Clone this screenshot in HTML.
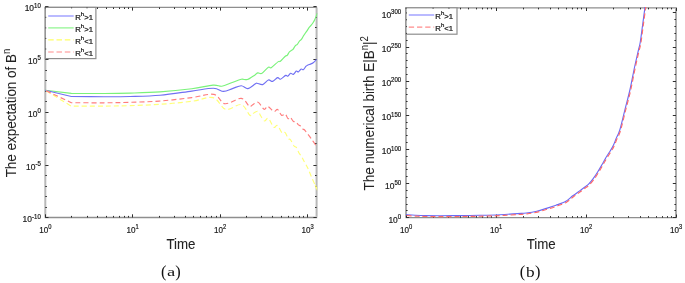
<!DOCTYPE html>
<html><head><meta charset="utf-8"><title>Figure</title>
<style>html,body{margin:0;padding:0;background:#fff;}body{width:685px;height:283px;overflow:hidden;}svg{display:block;filter:blur(0.3px);}</style>
</head><body>
<svg width="685" height="283" viewBox="0 0 685 283" font-family="'Liberation Sans', sans-serif">
<rect width="685" height="283" fill="#fff"/>
<defs><clipPath id="ca"><rect x="44.60" y="6.70" width="272.70" height="211.50"/></clipPath><clipPath id="cb"><rect x="405.30" y="7.10" width="271.40" height="211.30"/></clipPath></defs>
<path d="M44.70 7.4H317.20M44.70 217.5H317.20" stroke="#8e8e8e" stroke-width="1.3" fill="none"/>
<path d="M45.3 8.05V216.85M316.6 8.05V216.85" stroke="#b8b8b8" stroke-width="2.0" fill="none"/>
<path d="M45.50 217.5v-3.2M45.50 7.4v3.2M132.50 217.5v-3.2M132.50 7.4v3.2M220.50 217.5v-3.2M220.50 7.4v3.2M307.50 217.5v-3.2M307.50 7.4v3.2M71.50 217.5v-1.6M71.50 7.4v1.6M87.50 217.5v-1.6M87.50 7.4v1.6M97.50 217.5v-1.6M97.50 7.4v1.6M106.50 217.5v-1.6M106.50 7.4v1.6M113.50 217.5v-1.6M113.50 7.4v1.6M119.50 217.5v-1.6M119.50 7.4v1.6M124.50 217.5v-1.6M124.50 7.4v1.6M128.50 217.5v-1.6M128.50 7.4v1.6M159.50 217.5v-1.6M159.50 7.4v1.6M174.50 217.5v-1.6M174.50 7.4v1.6M185.50 217.5v-1.6M185.50 7.4v1.6M193.50 217.5v-1.6M193.50 7.4v1.6M200.50 217.5v-1.6M200.50 7.4v1.6M206.50 217.5v-1.6M206.50 7.4v1.6M211.50 217.5v-1.6M211.50 7.4v1.6M216.50 217.5v-1.6M216.50 7.4v1.6M246.50 217.5v-1.6M246.50 7.4v1.6M261.50 217.5v-1.6M261.50 7.4v1.6M272.50 217.5v-1.6M272.50 7.4v1.6M281.50 217.5v-1.6M281.50 7.4v1.6M288.50 217.5v-1.6M288.50 7.4v1.6M293.50 217.5v-1.6M293.50 7.4v1.6M299.50 217.5v-1.6M299.50 7.4v1.6M303.50 217.5v-1.6M303.50 7.4v1.6M45.3 217.50h3.2M316.6 217.50h-3.2M45.3 165.50h3.2M316.6 165.50h-3.2M45.3 112.50h3.2M316.6 112.50h-3.2M45.3 59.50h3.2M316.6 59.50h-3.2M45.3 6.50h3.2M316.6 6.50h-3.2M45.3 207.50h1.6M316.6 207.50h-1.6M45.3 196.50h1.6M316.6 196.50h-1.6M45.3 186.50h1.6M316.6 186.50h-1.6M45.3 175.50h1.6M316.6 175.50h-1.6M45.3 154.50h1.6M316.6 154.50h-1.6M45.3 143.50h1.6M316.6 143.50h-1.6M45.3 133.50h1.6M316.6 133.50h-1.6M45.3 122.50h1.6M316.6 122.50h-1.6M45.3 101.50h1.6M316.6 101.50h-1.6M45.3 91.50h1.6M316.6 91.50h-1.6M45.3 80.50h1.6M316.6 80.50h-1.6M45.3 70.50h1.6M316.6 70.50h-1.6M45.3 48.50h1.6M316.6 48.50h-1.6M45.3 38.50h1.6M316.6 38.50h-1.6M45.3 27.50h1.6M316.6 27.50h-1.6M45.3 17.50h1.6M316.6 17.50h-1.6" stroke="#2e2e2e" stroke-width="1.0" fill="none"/>
<g clip-path="url(#ca)" fill="none" stroke-width="1.15" stroke-linejoin="round">
<path d="M45.30 90.30L71.30 93.40C76.75 93.42 94.22 93.55 104.00 93.50C113.78 93.45 120.67 93.37 130.00 93.10C139.33 92.83 149.70 92.63 160.00 91.90C170.30 91.17 182.97 89.83 191.80 88.70C200.63 87.57 208.00 85.52 213.00 85.10C218.00 84.68 218.72 86.58 221.80 86.20C224.88 85.82 228.27 83.95 231.50 82.80C234.73 81.65 238.55 79.85 241.20 79.30C243.85 78.75 245.10 80.23 247.40 79.50C249.70 78.77 253.27 76.00 255.00 74.90C256.73 73.80 256.63 73.17 257.80 72.90C258.97 72.63 260.23 74.25 262.00 73.30C263.77 72.35 266.87 68.13 268.40 67.20C269.93 66.27 269.55 68.63 271.20 67.70C272.85 66.77 276.77 62.67 278.30 61.60C279.83 60.53 279.23 62.20 280.40 61.30C281.57 60.40 284.17 57.20 285.30 56.20C286.43 55.20 286.52 56.02 287.20 55.30C287.88 54.58 288.68 52.73 289.40 51.90C290.12 51.07 290.90 50.73 291.50 50.30C292.10 49.87 292.35 50.08 293.00 49.30C293.65 48.52 294.68 46.42 295.40 45.60C296.12 44.78 296.60 45.18 297.30 44.40C298.00 43.62 298.92 41.73 299.60 40.90C300.28 40.07 300.73 40.28 301.40 39.40C302.07 38.52 302.93 36.67 303.60 35.60C304.27 34.53 304.83 33.80 305.40 33.00C305.97 32.20 306.33 31.77 307.00 30.80C307.67 29.83 308.70 28.13 309.40 27.20C310.10 26.27 310.60 25.93 311.20 25.20C311.80 24.47 312.40 23.77 313.00 22.80C313.60 21.83 314.20 20.67 314.80 19.40C315.40 18.13 316.13 16.27 316.60 15.20C317.07 14.13 317.43 13.37 317.60 13.00" stroke="#7af27a"/>
<path d="M45.30 90.30L71.30 96.50C76.75 96.53 94.22 96.70 104.00 96.70C113.78 96.70 120.67 96.73 130.00 96.50C139.33 96.27 149.70 96.20 160.00 95.30C170.30 94.40 182.90 92.27 191.80 91.10C200.70 89.93 208.12 88.25 213.40 88.30C218.68 88.35 220.33 91.35 223.50 91.40C226.67 91.45 229.45 89.55 232.40 88.60C235.35 87.65 238.63 85.70 241.20 85.70C243.77 85.70 245.50 88.87 247.80 88.60C250.10 88.33 253.47 85.00 255.00 84.10C256.53 83.20 255.72 83.12 257.00 83.20C258.28 83.28 260.80 85.13 262.70 84.60C264.60 84.07 266.75 80.53 268.40 80.00C270.05 79.47 271.07 81.80 272.60 81.40C274.13 81.00 276.30 77.97 277.60 77.60C278.90 77.23 279.05 79.57 280.40 79.20C281.75 78.83 284.47 75.90 285.70 75.40C286.93 74.90 286.98 76.55 287.80 76.20C288.62 75.85 289.67 73.60 290.60 73.30C291.53 73.00 292.45 74.77 293.40 74.40C294.35 74.03 295.47 71.52 296.30 71.10C297.13 70.68 297.58 72.25 298.40 71.90C299.22 71.55 300.38 69.37 301.20 69.00C302.02 68.63 302.48 70.17 303.30 69.70C304.12 69.23 305.27 67.02 306.10 66.20C306.93 65.38 307.58 65.15 308.30 64.80C309.02 64.45 309.58 64.45 310.40 64.10C311.22 63.75 312.17 63.48 313.20 62.70C314.23 61.92 316.03 59.95 316.60 59.40" stroke="#7070f3"/>
<path d="M45.30 90.30L71.30 106.20C76.75 106.18 94.22 106.20 104.00 106.10C113.78 106.00 120.67 105.90 130.00 105.60C139.33 105.30 149.70 105.02 160.00 104.30C170.30 103.58 182.97 102.42 191.80 101.30C200.63 100.18 207.33 96.25 213.00 97.60C218.67 98.95 221.10 108.23 225.80 109.40C230.50 110.57 237.23 103.67 241.20 104.60C245.17 105.53 247.80 113.40 249.60 115.00C251.40 116.60 250.67 114.82 252.00 114.20C253.33 113.58 256.13 111.00 257.60 111.30C259.07 111.60 259.65 114.38 260.80 116.00C261.95 117.62 263.23 120.60 264.50 121.00C265.77 121.40 266.85 117.37 268.40 118.40C269.95 119.43 272.30 126.03 273.80 127.20C275.30 128.37 276.03 124.47 277.40 125.40C278.77 126.33 280.70 131.60 282.00 132.80C283.30 134.00 284.17 131.63 285.20 132.60C286.23 133.57 287.33 137.43 288.20 138.60C289.07 139.77 289.43 138.37 290.40 139.60C291.37 140.83 293.02 144.70 294.00 146.00C294.98 147.30 295.47 146.23 296.30 147.40C297.13 148.57 298.13 151.50 299.00 153.00C299.87 154.50 300.75 155.18 301.50 156.40C302.25 157.62 302.50 158.45 303.50 160.30C304.50 162.15 306.17 164.72 307.50 167.50C308.83 170.28 309.98 173.55 311.50 177.00C313.02 180.45 315.75 186.33 316.60 188.20" stroke="#ffff78" stroke-dasharray="5 3" stroke-dashoffset="-1"/>
<path d="M45.30 90.30L71.30 102.70C76.75 102.72 94.22 102.87 104.00 102.80C113.78 102.73 120.67 102.60 130.00 102.30C139.33 102.00 149.70 101.78 160.00 101.00C170.30 100.22 182.83 98.70 191.80 97.60C200.77 96.50 208.28 93.38 213.80 94.40C219.32 95.42 220.33 103.03 224.90 103.70C229.47 104.37 237.15 97.97 241.20 98.40C245.25 98.83 247.38 105.17 249.20 106.30C251.02 107.43 250.63 105.88 252.10 105.20C253.57 104.52 256.00 101.52 258.00 102.20C260.00 102.88 262.48 108.62 264.10 109.30C265.72 109.98 266.08 105.93 267.70 106.30C269.32 106.67 272.15 110.98 273.80 111.50C275.45 112.02 276.32 108.78 277.60 109.40C278.88 110.02 280.22 114.42 281.50 115.20C282.78 115.98 284.22 113.53 285.30 114.10C286.38 114.67 287.17 118.07 288.00 118.60C288.83 119.13 289.43 116.87 290.30 117.30C291.17 117.73 292.25 120.43 293.20 121.20C294.15 121.97 295.13 121.30 296.00 121.90C296.87 122.50 297.67 124.13 298.40 124.80C299.13 125.47 299.70 125.23 300.40 125.90C301.10 126.57 301.90 128.12 302.60 128.80C303.30 129.48 303.90 129.32 304.60 130.00C305.30 130.68 306.07 131.97 306.80 132.90C307.53 133.83 308.30 134.70 309.00 135.60C309.70 136.50 310.25 137.25 311.00 138.30C311.75 139.35 312.57 140.55 313.50 141.90C314.43 143.25 316.08 145.65 316.60 146.40" stroke="#ff7d7d" stroke-dasharray="5 3" stroke-dashoffset="-1"/>
<path d="M315.2 185.0L317.6 190.4" stroke="#ffff78"/>
</g>
<text transform="translate(45.30,232.60) scale(0.88,1)" text-anchor="middle" font-size="9.2" fill="#1a1a1a" stroke="#1a1a1a" stroke-width="0.2">10<tspan dy="-3.8" font-size="6.6">0</tspan></text>
<text transform="translate(132.70,232.60) scale(0.88,1)" text-anchor="middle" font-size="9.2" fill="#1a1a1a" stroke="#1a1a1a" stroke-width="0.2">10<tspan dy="-3.8" font-size="6.6">1</tspan></text>
<text transform="translate(220.10,232.60) scale(0.88,1)" text-anchor="middle" font-size="9.2" fill="#1a1a1a" stroke="#1a1a1a" stroke-width="0.2">10<tspan dy="-3.8" font-size="6.6">2</tspan></text>
<text transform="translate(307.50,232.60) scale(0.88,1)" text-anchor="middle" font-size="9.2" fill="#1a1a1a" stroke="#1a1a1a" stroke-width="0.2">10<tspan dy="-3.8" font-size="6.6">3</tspan></text>
<text transform="translate(40.80,11.30) scale(0.92,1)" text-anchor="end" font-size="9.2" fill="#1a1a1a" stroke="#1a1a1a" stroke-width="0.2">10<tspan dy="-3.8" font-size="6.6">10</tspan></text>
<text transform="translate(40.80,64.05) scale(0.92,1)" text-anchor="end" font-size="9.2" fill="#1a1a1a" stroke="#1a1a1a" stroke-width="0.2">10<tspan dy="-3.8" font-size="6.6">5</tspan></text>
<text transform="translate(40.80,116.80) scale(0.92,1)" text-anchor="end" font-size="9.2" fill="#1a1a1a" stroke="#1a1a1a" stroke-width="0.2">10<tspan dy="-3.8" font-size="6.6">0</tspan></text>
<text transform="translate(40.80,169.55) scale(0.92,1)" text-anchor="end" font-size="9.2" fill="#1a1a1a" stroke="#1a1a1a" stroke-width="0.2">10<tspan dy="-3.8" font-size="6.6">-5</tspan></text>
<text transform="translate(40.80,222.30) scale(0.92,1)" text-anchor="end" font-size="9.2" fill="#1a1a1a" stroke="#1a1a1a" stroke-width="0.2">10<tspan dy="-3.8" font-size="6.6">-10</tspan></text>
<rect x="45.3" y="7.4" width="50.6" height="51.2" fill="#fff" stroke="#8e8e8e" stroke-width="1.2"/>
<line x1="48.2" y1="16.0" x2="73.7" y2="16.0" stroke="#8c8cff" stroke-width="1.2"/>
<text transform="translate(75.20,19.90) scale(0.97,1)" font-size="8" fill="#1a1a1a" stroke="#1a1a1a" stroke-width="0.25">R<tspan dy="-4.2" font-size="6.2">h</tspan><tspan dy="4.2">&gt;1</tspan></text>
<line x1="48.2" y1="27.9" x2="73.7" y2="27.9" stroke="#8cf58c" stroke-width="1.2"/>
<text transform="translate(75.20,31.80) scale(0.97,1)" font-size="8" fill="#1a1a1a" stroke="#1a1a1a" stroke-width="0.25">R<tspan dy="-4.2" font-size="6.2">h</tspan><tspan dy="4.2">&gt;1</tspan></text>
<line x1="48.2" y1="39.9" x2="73.7" y2="39.9" stroke="#ffff66" stroke-width="1.2" stroke-dasharray="5.5 2.8"/>
<text transform="translate(75.20,43.80) scale(0.97,1)" font-size="8" fill="#1a1a1a" stroke="#1a1a1a" stroke-width="0.25">R<tspan dy="-4.2" font-size="6.2">h</tspan><tspan dy="4.2">&lt;1</tspan></text>
<line x1="48.2" y1="52.0" x2="73.7" y2="52.0" stroke="#ff8c8c" stroke-width="1.2" stroke-dasharray="5.5 2.8"/>
<text transform="translate(75.20,55.90) scale(0.97,1)" font-size="8" fill="#1a1a1a" stroke="#1a1a1a" stroke-width="0.25">R<tspan dy="-4.2" font-size="6.2">h</tspan><tspan dy="4.2">&lt;1</tspan></text>
<path d="M71.61 7.4v1.0M87.00 7.4v1.0M45.30 7.4v1.0M45.3 49.00h1.0M45.3 38.45h1.0M45.3 27.90h1.0M45.3 17.35h1.0M45.3 6.80h1.0" stroke="#2e2e2e" stroke-width="0.9" fill="none"/>
<text transform="translate(181.0,249.4) scale(0.95,1)" text-anchor="middle" font-size="14" fill="#222" stroke="#222" stroke-width="0.08">Time</text>
<text transform="translate(15.9,113.0) rotate(-90) scale(0.962,1)" text-anchor="middle" font-size="14" fill="#222" stroke="#222" stroke-width="0.05">The expectation of B<tspan dy="-6.3" font-size="10">n</tspan></text>
<g font-family="'Liberation Serif', serif" font-size="15.4" fill="#111"><text x="161.0" y="276.5" font-size="16.4">(</text><text transform="translate(166.9,275.7) scale(1.2,0.8)" x="0" y="0">a</text><text x="175.2" y="276.5" font-size="16.4">)</text></g>
<path d="M405.40 7.8H676.60M405.40 217.7H676.60" stroke="#8e8e8e" stroke-width="1.3" fill="none"/>
<path d="M406.0 8.45V217.05M676.0 8.45V217.05" stroke="#989898" stroke-width="1.6" fill="none"/>
<path d="M406.50 217.7v-3.2M406.50 7.8v3.2M496.50 217.7v-3.2M496.50 7.8v3.2M586.50 217.7v-3.2M586.50 7.8v3.2M676.50 217.7v-3.2M676.50 7.8v3.2M433.50 217.7v-1.6M433.50 7.8v1.6M448.50 217.7v-1.6M448.50 7.8v1.6M460.50 217.7v-1.6M460.50 7.8v1.6M468.50 217.7v-1.6M468.50 7.8v1.6M476.50 217.7v-1.6M476.50 7.8v1.6M482.50 217.7v-1.6M482.50 7.8v1.6M487.50 217.7v-1.6M487.50 7.8v1.6M491.50 217.7v-1.6M491.50 7.8v1.6M523.50 217.7v-1.6M523.50 7.8v1.6M538.50 217.7v-1.6M538.50 7.8v1.6M550.50 217.7v-1.6M550.50 7.8v1.6M558.50 217.7v-1.6M558.50 7.8v1.6M566.50 217.7v-1.6M566.50 7.8v1.6M572.50 217.7v-1.6M572.50 7.8v1.6M577.50 217.7v-1.6M577.50 7.8v1.6M581.50 217.7v-1.6M581.50 7.8v1.6M613.50 217.7v-1.6M613.50 7.8v1.6M628.50 217.7v-1.6M628.50 7.8v1.6M640.50 217.7v-1.6M640.50 7.8v1.6M648.50 217.7v-1.6M648.50 7.8v1.6M656.50 217.7v-1.6M656.50 7.8v1.6M662.50 217.7v-1.6M662.50 7.8v1.6M667.50 217.7v-1.6M667.50 7.8v1.6M671.50 217.7v-1.6M671.50 7.8v1.6M406.0 217.50h3.2M676.0 217.50h-3.2M406.0 183.50h3.2M676.0 183.50h-3.2M406.0 149.50h3.2M676.0 149.50h-3.2M406.0 115.50h3.2M676.0 115.50h-3.2M406.0 81.50h3.2M676.0 81.50h-3.2M406.0 47.50h3.2M676.0 47.50h-3.2M406.0 12.50h3.2M676.0 12.50h-3.2M406.0 210.50h1.6M676.0 210.50h-1.6M406.0 204.50h1.6M676.0 204.50h-1.6M406.0 197.50h1.6M676.0 197.50h-1.6M406.0 190.50h1.6M676.0 190.50h-1.6M406.0 176.50h1.6M676.0 176.50h-1.6M406.0 169.50h1.6M676.0 169.50h-1.6M406.0 163.50h1.6M676.0 163.50h-1.6M406.0 156.50h1.6M676.0 156.50h-1.6M406.0 142.50h1.6M676.0 142.50h-1.6M406.0 135.50h1.6M676.0 135.50h-1.6M406.0 128.50h1.6M676.0 128.50h-1.6M406.0 122.50h1.6M676.0 122.50h-1.6M406.0 108.50h1.6M676.0 108.50h-1.6M406.0 101.50h1.6M676.0 101.50h-1.6M406.0 94.50h1.6M676.0 94.50h-1.6M406.0 88.50h1.6M676.0 88.50h-1.6M406.0 74.50h1.6M676.0 74.50h-1.6M406.0 67.50h1.6M676.0 67.50h-1.6M406.0 60.50h1.6M676.0 60.50h-1.6M406.0 53.50h1.6M676.0 53.50h-1.6M406.0 40.50h1.6M676.0 40.50h-1.6M406.0 33.50h1.6M676.0 33.50h-1.6M406.0 26.50h1.6M676.0 26.50h-1.6M406.0 19.50h1.6M676.0 19.50h-1.6" stroke="#2e2e2e" stroke-width="1.0" fill="none"/>
<g clip-path="url(#cb)" fill="none" stroke-width="1.15" stroke-linejoin="round">
<path d="M406.00 214.60C407.50 214.70 411.83 215.03 415.00 215.20C418.17 215.37 420.83 215.52 425.00 215.60C429.17 215.68 434.17 215.70 440.00 215.70C445.83 215.70 453.33 215.67 460.00 215.60C466.67 215.53 473.33 215.45 480.00 215.30C486.67 215.15 493.75 214.98 500.00 214.70C506.25 214.42 513.12 213.88 517.50 213.60C521.88 213.32 523.08 213.40 526.30 213.00C529.52 212.60 533.30 212.02 536.80 211.20C540.30 210.38 544.10 209.08 547.30 208.10C550.50 207.12 552.90 206.43 556.00 205.30C559.10 204.17 563.10 202.88 565.90 201.30C568.70 199.72 570.50 197.53 572.80 195.80C575.10 194.07 577.55 192.47 579.70 190.90C581.85 189.33 584.22 187.52 585.70 186.40C587.18 185.28 587.35 185.48 588.60 184.20C589.85 182.92 591.67 180.77 593.20 178.70C594.73 176.63 596.35 174.12 597.80 171.80C599.25 169.48 600.58 167.10 601.90 164.80C603.22 162.50 604.32 160.30 605.70 158.00C607.08 155.70 608.92 153.12 610.20 151.00C611.48 148.88 612.35 147.53 613.40 145.30C614.45 143.07 615.43 140.15 616.50 137.60C617.57 135.05 618.40 134.63 619.80 130.00C621.20 125.37 623.22 116.47 624.90 109.80C626.58 103.13 628.27 97.22 629.90 90.00C631.53 82.78 633.30 73.07 634.70 66.50C636.10 59.93 637.37 54.68 638.30 50.60C639.23 46.52 639.58 46.27 640.30 42.00C641.02 37.73 641.85 30.58 642.60 25.00C643.35 19.42 644.27 12.67 644.80 8.50C645.33 4.33 645.63 1.42 645.80 0.00" stroke="#6a6af5"/>
<path d="M406.60 215.50C408.10 215.60 412.43 215.93 415.60 216.10C418.77 216.27 421.43 216.42 425.60 216.50C429.77 216.58 434.77 216.60 440.60 216.60C446.43 216.60 453.93 216.57 460.60 216.50C467.27 216.43 473.93 216.35 480.60 216.20C487.27 216.05 494.35 215.88 500.60 215.60C506.85 215.32 513.72 214.78 518.10 214.50C522.48 214.22 523.68 214.30 526.90 213.90C530.12 213.50 533.90 212.92 537.40 212.10C540.90 211.28 544.70 209.98 547.90 209.00C551.10 208.02 553.50 207.33 556.60 206.20C559.70 205.07 563.70 203.78 566.50 202.20C569.30 200.62 571.10 198.43 573.40 196.70C575.70 194.97 578.15 193.37 580.30 191.80C582.45 190.23 584.82 188.42 586.30 187.30C587.78 186.18 587.95 186.38 589.20 185.10C590.45 183.82 592.27 181.67 593.80 179.60C595.33 177.53 596.95 175.02 598.40 172.70C599.85 170.38 601.18 168.00 602.50 165.70C603.82 163.40 604.92 161.20 606.30 158.90C607.68 156.60 609.52 154.02 610.80 151.90C612.08 149.78 612.95 148.43 614.00 146.20C615.05 143.97 616.03 141.05 617.10 138.50C618.17 135.95 619.00 135.53 620.40 130.90C621.80 126.27 623.82 117.37 625.50 110.70C627.18 104.03 628.87 98.12 630.50 90.90C632.13 83.68 633.90 73.97 635.30 67.40C636.70 60.83 637.97 55.58 638.90 51.50C639.83 47.42 640.18 47.17 640.90 42.90C641.62 38.63 642.45 31.48 643.20 25.90C643.95 20.32 644.87 13.57 645.40 9.40C645.93 5.23 646.23 2.32 646.40 0.90" stroke="#ff6a6a" stroke-dasharray="5 3"/>
</g>
<text transform="translate(406.00,232.60) scale(0.88,1)" text-anchor="middle" font-size="9.2" fill="#1a1a1a" stroke="#1a1a1a" stroke-width="0.2">10<tspan dy="-3.8" font-size="6.6">0</tspan></text>
<text transform="translate(496.00,232.60) scale(0.88,1)" text-anchor="middle" font-size="9.2" fill="#1a1a1a" stroke="#1a1a1a" stroke-width="0.2">10<tspan dy="-3.8" font-size="6.6">1</tspan></text>
<text transform="translate(586.00,232.60) scale(0.88,1)" text-anchor="middle" font-size="9.2" fill="#1a1a1a" stroke="#1a1a1a" stroke-width="0.2">10<tspan dy="-3.8" font-size="6.6">2</tspan></text>
<text transform="translate(676.00,232.60) scale(0.88,1)" text-anchor="middle" font-size="9.2" fill="#1a1a1a" stroke="#1a1a1a" stroke-width="0.2">10<tspan dy="-3.8" font-size="6.6">3</tspan></text>
<text transform="translate(401.20,222.70) scale(0.92,1)" text-anchor="end" font-size="9.2" fill="#1a1a1a" stroke="#1a1a1a" stroke-width="0.2">10<tspan dy="-3.8" font-size="6.6">0</tspan></text>
<text transform="translate(401.20,188.57) scale(0.92,1)" text-anchor="end" font-size="9.2" fill="#1a1a1a" stroke="#1a1a1a" stroke-width="0.2">10<tspan dy="-3.8" font-size="6.6">50</tspan></text>
<text transform="translate(401.20,154.45) scale(0.92,1)" text-anchor="end" font-size="9.2" fill="#1a1a1a" stroke="#1a1a1a" stroke-width="0.2">10<tspan dy="-3.8" font-size="6.6">100</tspan></text>
<text transform="translate(401.20,120.32) scale(0.92,1)" text-anchor="end" font-size="9.2" fill="#1a1a1a" stroke="#1a1a1a" stroke-width="0.2">10<tspan dy="-3.8" font-size="6.6">150</tspan></text>
<text transform="translate(401.20,86.20) scale(0.92,1)" text-anchor="end" font-size="9.2" fill="#1a1a1a" stroke="#1a1a1a" stroke-width="0.2">10<tspan dy="-3.8" font-size="6.6">200</tspan></text>
<text transform="translate(401.20,52.07) scale(0.92,1)" text-anchor="end" font-size="9.2" fill="#1a1a1a" stroke="#1a1a1a" stroke-width="0.2">10<tspan dy="-3.8" font-size="6.6">250</tspan></text>
<text transform="translate(401.20,17.95) scale(0.92,1)" text-anchor="end" font-size="9.2" fill="#1a1a1a" stroke="#1a1a1a" stroke-width="0.2">10<tspan dy="-3.8" font-size="6.6">300</tspan></text>
<rect x="406.0" y="7.8" width="51" height="26.4" fill="#fff" stroke="#8e8e8e" stroke-width="1.2"/>
<line x1="408.8" y1="15.0" x2="434.2" y2="15.0" stroke="#8c8cff" stroke-width="1.2"/>
<text transform="translate(435.30,18.90) scale(0.97,1)" font-size="8" fill="#1a1a1a" stroke="#1a1a1a" stroke-width="0.25">R<tspan dy="-4.2" font-size="6.2">h</tspan><tspan dy="4.2">&gt;1</tspan></text>
<line x1="408.8" y1="27.2" x2="434.2" y2="27.2" stroke="#ff8c8c" stroke-width="1.2" stroke-dasharray="5.3 2.9"/>
<text transform="translate(435.30,31.10) scale(0.97,1)" font-size="8" fill="#1a1a1a" stroke="#1a1a1a" stroke-width="0.25">R<tspan dy="-4.2" font-size="6.2">h</tspan><tspan dy="4.2">&lt;1</tspan></text>
<path d="M433.09 7.8v1.0M448.94 7.8v1.0M406.00 7.8v1.0M406.0 33.42h1.0M406.0 26.60h1.0M406.0 19.77h1.0M406.0 12.95h1.0" stroke="#2e2e2e" stroke-width="0.9" fill="none"/>
<text transform="translate(541.2,249.4) scale(0.95,1)" text-anchor="middle" font-size="14" fill="#222" stroke="#222" stroke-width="0.08">Time</text>
<text transform="translate(374.3,113.3) rotate(-90) scale(0.962,1)" text-anchor="middle" font-size="14" fill="#222" stroke="#222" stroke-width="0.05">The numerical birth E|B<tspan dy="-6.3" font-size="10">n</tspan><tspan dy="6.3">|</tspan><tspan dy="-6.3" font-size="10">2</tspan></text>
<g font-family="'Liberation Serif', serif" font-size="15.4" fill="#111"><text x="519.8" y="276.5" font-size="16.4">(</text><text transform="translate(526.0,276.6) scale(1.12,0.88)" x="0" y="0">b</text><text x="534.9" y="276.5" font-size="16.4">)</text></g>
</svg>
</body></html>
